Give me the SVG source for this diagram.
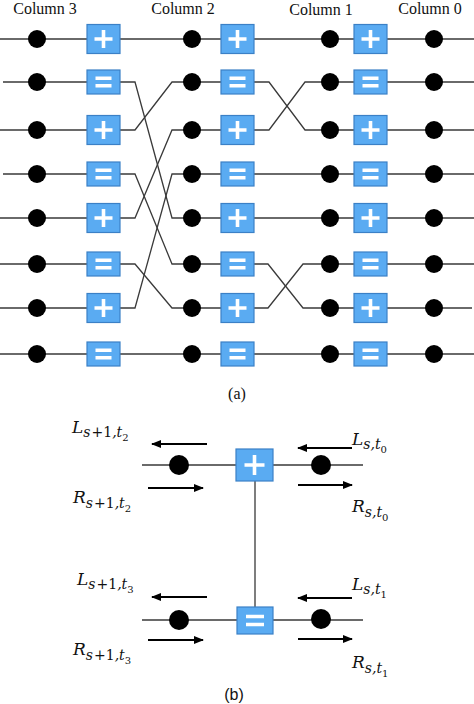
<svg xmlns="http://www.w3.org/2000/svg" width="474" height="704" viewBox="0 0 474 704">
<defs>
<style>
.w{fill:none;stroke:#3a3a3a;stroke-width:1.3}
.dot{fill:#000}
.bx{fill:#5aabf2;stroke:#3b80c6;stroke-width:1.2}
.sym{stroke:#fff;stroke-width:3.6;fill:none}
.col{font-family:'Liberation Serif','Times New Roman','DejaVu Serif',serif;font-size:16px;fill:#111}
.cap{font-family:'Liberation Serif','Times New Roman','DejaVu Serif',serif;font-size:16px;fill:#111}
.capb{font-family:'Liberation Sans',Arial,sans-serif;font-size:16px;fill:#111}
.m{font-family:'DejaVu Serif','Liberation Serif',serif;font-style:italic;font-size:17px;fill:#111}
.s{font-size:14px}
.ss{font-size:10px;font-style:normal}
.up{font-style:normal;font-size:14px}
.ar{stroke:#000;stroke-width:2.2;fill:none}
</style>
<marker id="ah" markerWidth="10" markerHeight="8" refX="9" refY="4" orient="auto" markerUnits="userSpaceOnUse">
<path d="M0,0 L10,4 L0,8 Z" fill="#000"/>
</marker>
<g id="plusA"><rect class="bx" x="-16.5" y="-14.5" width="33" height="29"/><path class="sym" d="M-9,0 H9 M0,-9 V9"/></g>
<g id="eqA"><rect class="bx" x="-16.5" y="-12" width="33" height="24"/><path class="sym" d="M-8,-3.8 H8 M-8,3.8 H8" stroke-width="3"/></g>
</defs>
<rect width="474" height="704" fill="#fff"/>

<g id="labels">
<text class="col" x="45" y="14" text-anchor="middle">Column 3</text>
<text class="col" x="183" y="14" text-anchor="middle">Column 2</text>
<text class="col" x="321" y="15" text-anchor="middle">Column 1</text>
<text class="col" x="430" y="14" text-anchor="middle">Column 0</text>
<text class="cap" x="237" y="399" text-anchor="middle">(a)</text>
<text class="capb" x="234" y="700" text-anchor="middle">(b)</text>
</g>

<g id="connectors">
<path class="w" d="M0,39 H87 M3,82 H87 M0,130 H87 M3,174 H87 M0,218 H87 M0,264 H87 M0,308 H87 M0,354 H87"/>
<path class="w" d="M120,39 H192 M120,354 H192"/>
<path class="w" d="M120,82 H135 L172,218 H192"/>
<path class="w" d="M120,130 H135 L172,82 H192"/>
<path class="w" d="M120,174 H135 L172,264 H192"/>
<path class="w" d="M120,218 H135 L172,130 H192"/>
<path class="w" d="M120,264 H135 L172,308 H192"/>
<path class="w" d="M120,308 H135 L172,174 H192"/>
<path class="w" d="M192,39 H221 M192,82 H221 M192,130 H221 M192,174 H221 M192,218 H221 M192,264 H221 M192,308 H221 M192,354 H221"/>
<path class="w" d="M254,39 H330 M254,174 H330 M254,218 H330 M254,354 H330"/>
<path class="w" d="M254,82 H269 L305,130 H330"/>
<path class="w" d="M254,130 H269 L305,82 H330"/>
<path class="w" d="M254,264 H268 L303,308 H330"/>
<path class="w" d="M254,308 H268 L303,264 H330"/>
<path class="w" d="M330,39 H354 M330,82 H354 M330,130 H354 M330,174 H354 M330,218 H354 M330,264 H354 M330,308 H354 M330,354 H354"/>
<path class="w" d="M387,39 H474 M387,82 H474 M387,130 H474 M387,174 H474 M387,218 H474 M387,264 H474 M387,308 H472 M387,354 H474"/>
<path class="w" d="M142,465 H236 M273,465 H363 M142,620 H237 M273,620 H363 M255,481 V607"/>
<path class="ar" marker-end="url(#ah)" d="M207,444 H152"/>
<path class="ar" marker-end="url(#ah)" d="M148,488 H203"/>
<path class="ar" marker-end="url(#ah)" d="M352,448 H298"/>
<path class="ar" marker-end="url(#ah)" d="M298,485 H352"/>
<path class="ar" marker-end="url(#ah)" d="M207,597 H152"/>
<path class="ar" marker-end="url(#ah)" d="M148,640 H203"/>
<path class="ar" marker-end="url(#ah)" d="M352,598 H298"/>
<path class="ar" marker-end="url(#ah)" d="M298,639 H352"/>
</g>

<g id="col3-dots">
<circle class="dot" cx="37" cy="39" r="9"/><circle class="dot" cx="37" cy="82" r="9"/><circle class="dot" cx="37" cy="130" r="9"/><circle class="dot" cx="37" cy="174" r="9"/><circle class="dot" cx="37" cy="218" r="9"/><circle class="dot" cx="37" cy="264" r="9"/><circle class="dot" cx="37" cy="308" r="9"/><circle class="dot" cx="37" cy="354" r="9"/>
</g>
<g id="col3-boxes">
<use href="#plusA" x="103.5" y="39"/><use href="#eqA" x="103.5" y="82"/><use href="#plusA" x="103.5" y="130"/><use href="#eqA" x="103.5" y="174"/><use href="#plusA" x="103.5" y="218"/><use href="#eqA" x="103.5" y="264"/><use href="#plusA" x="103.5" y="308"/><use href="#eqA" x="103.5" y="354"/>
</g>
<g id="col2-dots">
<circle class="dot" cx="192" cy="39" r="9"/><circle class="dot" cx="192" cy="82" r="9"/><circle class="dot" cx="192" cy="130" r="9"/><circle class="dot" cx="192" cy="174" r="9"/><circle class="dot" cx="192" cy="218" r="9"/><circle class="dot" cx="192" cy="264" r="9"/><circle class="dot" cx="192" cy="308" r="9"/><circle class="dot" cx="192" cy="354" r="9"/>
</g>
<g id="col2-boxes">
<use href="#plusA" x="237.5" y="39"/><use href="#eqA" x="237.5" y="82"/><use href="#plusA" x="237.5" y="130"/><use href="#eqA" x="237.5" y="174"/><use href="#plusA" x="237.5" y="218"/><use href="#eqA" x="237.5" y="264"/><use href="#plusA" x="237.5" y="308"/><use href="#eqA" x="237.5" y="354"/>
</g>
<g id="col1-dots">
<circle class="dot" cx="330" cy="39" r="9"/><circle class="dot" cx="330" cy="82" r="9"/><circle class="dot" cx="330" cy="130" r="9"/><circle class="dot" cx="330" cy="174" r="9"/><circle class="dot" cx="330" cy="218" r="9"/><circle class="dot" cx="330" cy="264" r="9"/><circle class="dot" cx="330" cy="308" r="9"/><circle class="dot" cx="330" cy="354" r="9"/>
</g>
<g id="col1-boxes">
<use href="#plusA" x="370.5" y="39"/><use href="#eqA" x="370.5" y="82"/><use href="#plusA" x="370.5" y="130"/><use href="#eqA" x="370.5" y="174"/><use href="#plusA" x="370.5" y="218"/><use href="#eqA" x="370.5" y="264"/><use href="#plusA" x="370.5" y="308"/><use href="#eqA" x="370.5" y="354"/>
</g>
<g id="col0-dots">
<circle class="dot" cx="434" cy="39" r="9"/><circle class="dot" cx="434" cy="82" r="9"/><circle class="dot" cx="434" cy="130" r="9"/><circle class="dot" cx="434" cy="174" r="9"/><circle class="dot" cx="434" cy="218" r="9"/><circle class="dot" cx="434" cy="264" r="9"/><circle class="dot" cx="434" cy="308" r="9"/><circle class="dot" cx="434" cy="354" r="9"/>
</g>

<g id="b-top">
<circle class="dot" cx="179" cy="465" r="10"/>
<rect class="bx" x="236" y="449" width="37" height="32"/>
<path class="sym" d="M244.5,465 H264.5 M254.5,455 V475" stroke-width="4"/>
<circle class="dot" cx="321" cy="465" r="10"/>
</g>
<g id="b-bottom">
<circle class="dot" cx="179" cy="620" r="10"/>
<rect class="bx" x="237" y="607" width="36" height="27"/>
<path class="sym" d="M246,616.5 H264 M246,624.5 H264" stroke-width="3.4"/>
<circle class="dot" cx="321" cy="619" r="10"/>
</g>

<g id="b-labels">
<text class="m" x="72" y="433">L<tspan class="s" dy="4">s</tspan><tspan class="up" dx="1">+1</tspan><tspan class="s">,t</tspan><tspan class="ss" dy="4">2</tspan></text>
<text class="m" x="73" y="503">R<tspan class="s" dy="5">s</tspan><tspan class="up" dx="1">+1</tspan><tspan class="s">,t</tspan><tspan class="ss" dy="4">2</tspan></text>
<text class="m" x="352" y="445">L<tspan class="s" dy="4">s,t</tspan><tspan class="ss" dy="4">0</tspan></text>
<text class="m" x="352" y="512">R<tspan class="s" dy="5">s,t</tspan><tspan class="ss" dy="4">0</tspan></text>
<text class="m" x="77" y="585">L<tspan class="s" dy="4">s</tspan><tspan class="up" dx="1">+1</tspan><tspan class="s">,t</tspan><tspan class="ss" dy="4">3</tspan></text>
<text class="m" x="73" y="655">R<tspan class="s" dy="5">s</tspan><tspan class="up" dx="1">+1</tspan><tspan class="s">,t</tspan><tspan class="ss" dy="4">3</tspan></text>
<text class="m" x="352" y="590">L<tspan class="s" dy="4">s,t</tspan><tspan class="ss" dy="4">1</tspan></text>
<text class="m" x="352" y="668">R<tspan class="s" dy="5">s,t</tspan><tspan class="ss" dy="4">1</tspan></text>
</g>
</svg>
